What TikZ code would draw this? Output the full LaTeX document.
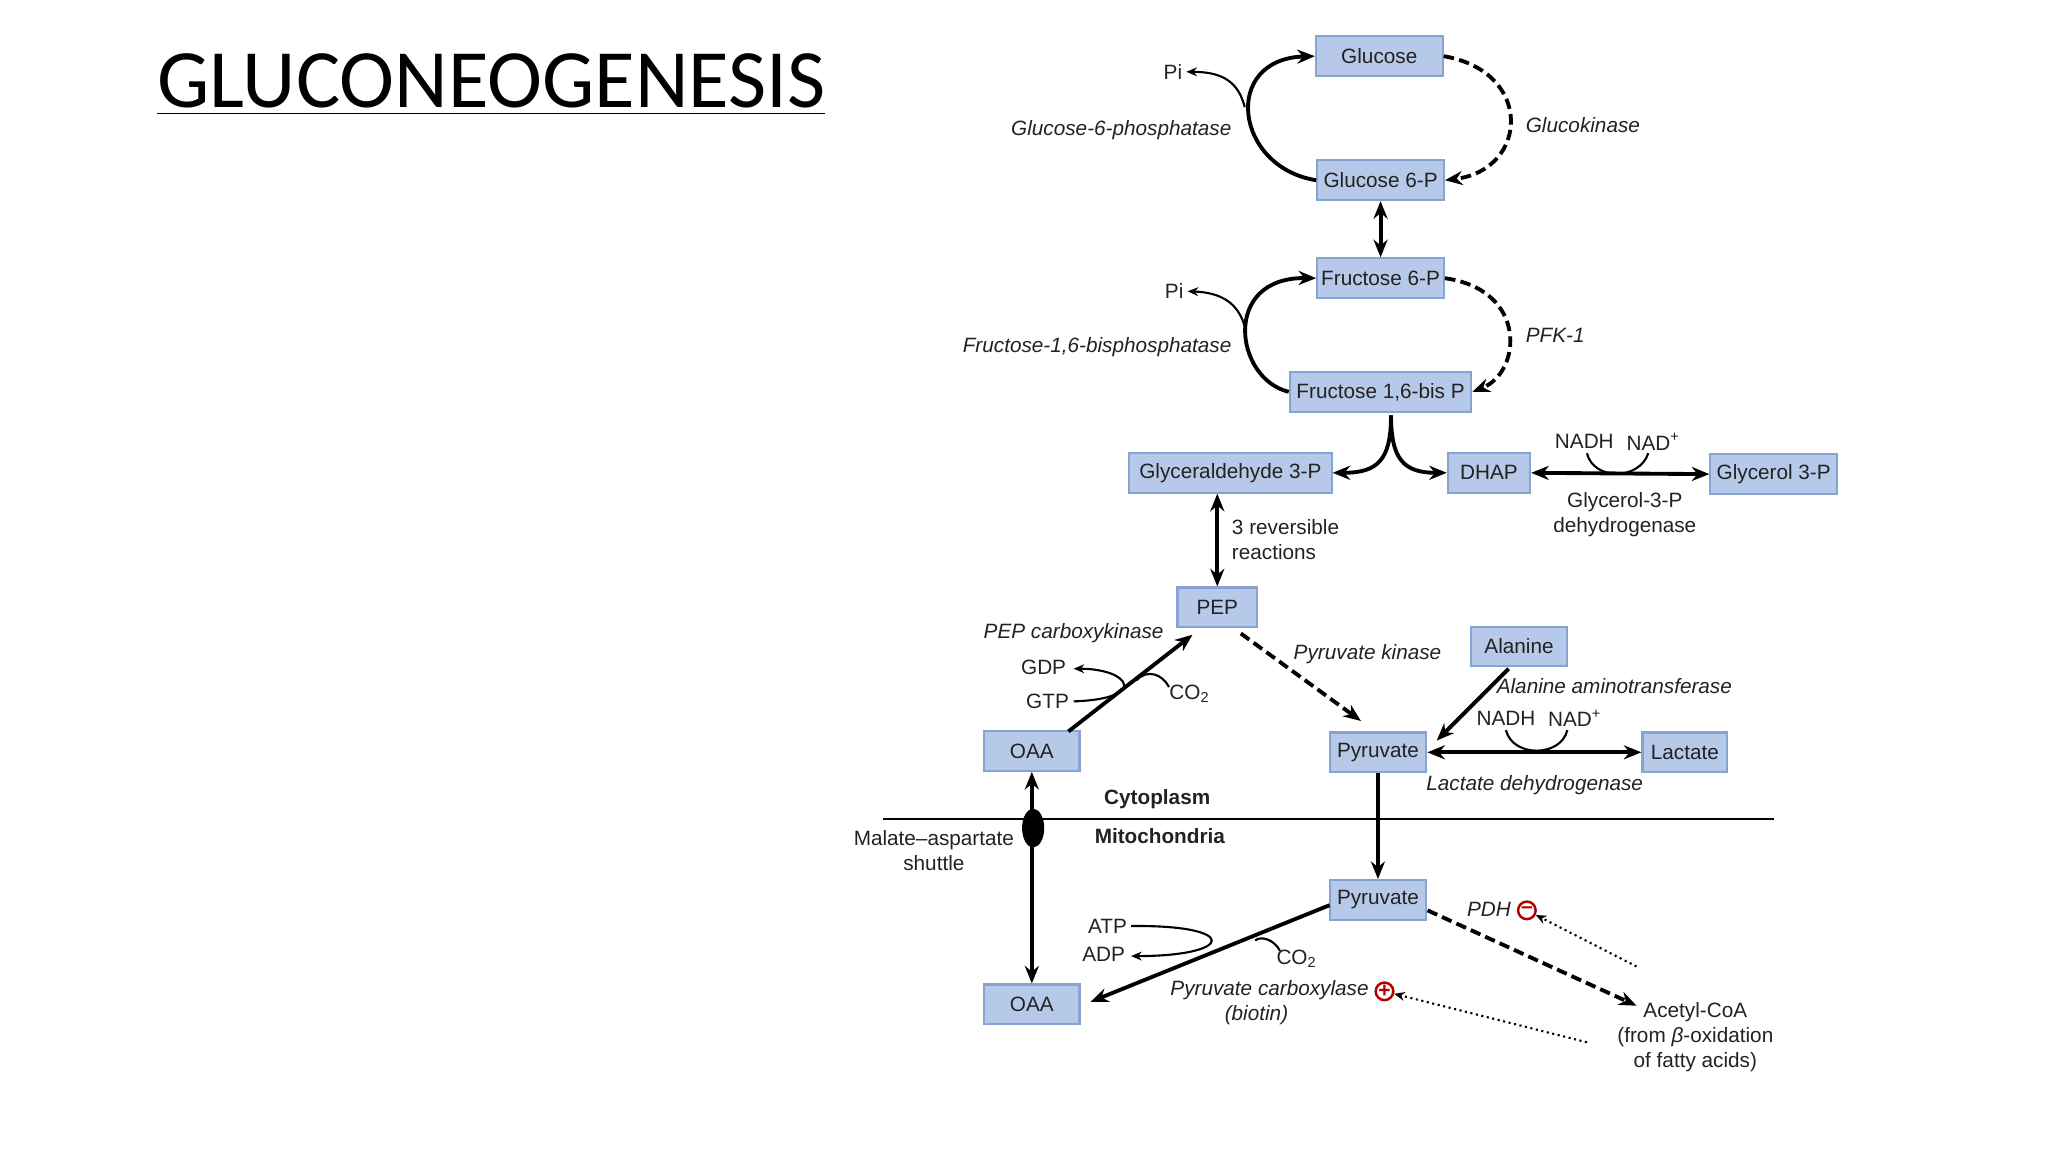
\documentclass[tikz,border=0pt]{standalone}
\usepackage{fontspec}
\setmainfont{Liberation Sans}
\newfontfamily\titlefont{Carlito}
\usetikzlibrary{arrows.meta,shapes.geometric}
\definecolor{boxfill}{HTML}{B7C9E8}
\definecolor{boxdraw}{HTML}{86A3D3}
\definecolor{txt}{HTML}{222222}
\begin{document}
\begin{tikzpicture}[x=0.01306cm,y=-0.01306cm,
  box/.style={draw=boxdraw,fill=boxfill,line width=0.6pt,minimum height=11.3pt,inner sep=1pt,font=\fontsize{5.9}{7}\selectfont,text=txt},
  w/.style={minimum width={0.3716pt*#1}},
  lab/.style={font=\fontsize{5.9}{7.2}\selectfont,text=txt,inner sep=1pt,align=center},
  ilab/.style={lab,font=\fontsize{5.9}{7.2}\selectfont\itshape},
  ar/.style={line width=1.1pt,-{Stealth[length=5pt,width=4pt]}},
  dar/.style={ar,<->,>={Stealth[length=5pt,width=4pt]}},
  dsh/.style={ar,dash pattern=on 3pt off 1.5pt},
  thn/.style={line width=0.6pt,-{Stealth[length=3pt,width=2.5pt]}},
  dots/.style={line width=0.6pt,densely dotted,-{Stealth[length=3pt,width=2.5pt]}},
  sign/.style={circle,draw=red!70!black,line width=0.7pt,inner sep=0,minimum size=5pt,font=\fontsize{6}{6}\selectfont\bfseries,text=red!70!black}]
\useasboundingbox (0,0) rectangle (1568,882);
\node[font=\titlefont\fontsize{23.6}{26}\selectfont,anchor=west,inner sep=0] (title) at (120,65) {\underline{GLUCONEOGENESIS}};
% boxes
\node[box,w=97] (glc) at (1056,43) {Glucose};
\node[box,w=97] (g6p) at (1057,138) {Glucose 6-P};
\node[box,w=97] (f6p) at (1057,213) {Fructose 6-P};
\node[box,w=139] (fbp) at (1057,300) {Fructose 1,6-bis P};
\node[box,w=155] (gap) at (942,362) {Glyceraldehyde 3-P};
\node[box,w=63] (dhap) at (1140,362) {DHAP};
\node[box,w=97] (g3p) at (1358,363) {Glycerol 3-P};
\node[box,w=61] (pep) at (932,465) {PEP};
\node[box,w=73] (ala) at (1163,495) {Alanine};
\node[box,w=73] (oaa1) at (790,575) {OAA};
\node[box,w=74] (pyr1) at (1055,576) {Pyruvate};
\node[box,w=65] (lac) at (1290,576) {Lactate};
\node[box,w=74] (pyr2) at (1055,689) {Pyruvate};
\node[box,w=73] (oaa2) at (790,769) {OAA};
% glucose cycle
\node[lab] (pi1) at (898,55) {Pi};
\draw[ar] (g6p.west) .. controls (945,128) and (935,45) .. (glc.west);
\draw[thn] (953,82) .. controls (948,62) and (935,55) .. (pi1.east);
\node[ilab,anchor=east] (g6pase) at (946,100) {Glucose-6-phosphatase};
\draw[dsh] (glc.east) .. controls (1175,55) and (1170,130) .. (g6p.east);
\node[ilab,anchor=west] (gk) at (1165,96) {Glucokinase};
\draw[dar] (g6p.south) -- (f6p.north);
% fructose cycle
\node[lab] (pi2) at (899,223) {Pi};
\draw[ar] (fbp.west) .. controls (945,290) and (935,212) .. (f6p.west);
\draw[thn] (953,250) .. controls (948,232) and (935,224) .. (pi2.east);
\node[ilab,anchor=east] (fbpase) at (946,266) {Fructose-1,6-bisphosphatase};
\draw[dsh] (f6p.east) .. controls (1170,222) and (1165,285) .. (fbp.east);
\node[ilab,anchor=west] (pfk) at (1165,257) {PFK-1};
% aldolase split
\coordinate (split) at (1065,318);
\draw[ar] (split) .. controls (1065,352) and (1055,362) .. (gap.east);
\draw[ar] (split) .. controls (1065,352) and (1075,362) .. (dhap.west);
% glycerol
\draw[dar] (dhap.east) -- (g3p.west);
\node[lab] (nadh1) at (1213,338) {NADH};
\node[lab] (nad1) at (1266,338) {NAD\textsuperscript{+}};
\draw[line width=0.6pt] (1215,347) .. controls (1220,368) and (1255,368) .. (1262,347);
\node[lab] (g3pdh) at (1244,394) {Glycerol-3-P\\dehydrogenase};
% GAP <-> PEP
\draw[dar] (gap.south -| pep) -- (pep.north);
\node[lab,anchor=west,align=left] (rev) at (940,413) {3 reversible\\reactions};
% OAA -> PEP
\draw[ar] (818,560) -- (913,486);
\node[lab] (gdp) at (799,511) {GDP};
\node[lab] (gtp) at (802,537) {GTP};
\draw[thn] (822,537) .. controls (880,535) and (865,512) .. (822,512);
\node[lab] (co21) at (911,531) {CO\textsubscript{2}};
\draw[line width=0.6pt] (870,521) .. controls (878,512) and (890,516) .. (895,526);
\node[ilab] (pepck) at (822,485) {PEP carboxykinase};
% PEP -> pyruvate
\draw[dsh] (950,485) -- (1042,552);
\node[ilab] (pk) at (1047,501) {Pyruvate kinase};
% alanine
\draw[ar] (1155,512) -- (1100,567);
\node[ilab] (alt) at (1236,525) {Alanine aminotransferase};
% lactate
\draw[dar] (pyr1.east) -- (lac.west);
\node[lab] (nadh2) at (1153,550) {NADH};
\node[lab] (nad2) at (1206,550) {NAD\textsuperscript{+}};
\draw[line width=0.6pt] (1153,559) .. controls (1158,580) and (1195,580) .. (1200,559);
\node[ilab] (ldh) at (1175,601) {Lactate dehydrogenase};
% membrane
\draw[line width=0.7pt] (676,627) -- (1358,627);
\node[lab,font=\fontsize{5.9}{7}\selectfont\bfseries] (cyto) at (886,612) {Cytoplasm};
\node[lab,font=\fontsize{5.9}{7}\selectfont\bfseries] (mito) at (888,640) {Mitochondria};
\draw[ar] (pyr1.south) -- (pyr2.north);
% shuttle
\draw[dar] (oaa1.south) -- (oaa2.north);
\node[ellipse,fill=black,minimum width=6.3pt,minimum height=11pt,inner sep=0] (shut) at (791,634) {};
\node[lab] (mas) at (715,651) {Malate--aspartate\\shuttle};
% pyruvate carboxylase
\draw[ar] (1018,693) -- (835,767);
\node[lab] (atp) at (848,709) {ATP};
\node[lab] (adp) at (845,731) {ADP};
\draw[thn] (866,709) .. controls (950,708) and (945,732) .. (866,732);
\node[lab] (co22) at (993,734) {CO\textsubscript{2}};
\draw[line width=0.6pt] (961,720) .. controls (966,716) and (976,720) .. (980,728);
\node[ilab] (pc) at (972,758) {Pyruvate carboxylase};
\node[ilab] (bio) at (962,777) {(biotin)};
\node[sign] (plus) at (1060,759) {+};
% PDH
\draw[dsh] (1093,697) -- (1253,770);
\node[ilab] (pdh) at (1140,696) {PDH};
\node[sign] (minus) at (1169,697) {\raisebox{0.3pt}{--}};
\node[lab] (acoa) at (1298,794) {Acetyl-CoA\\(from \textit{β}-oxidation\\of fatty acids)};
\draw[dots] (1253,740) -- (minus);
\draw[dots] (1215,798) -- (plus);
\end{tikzpicture}
\end{document}
